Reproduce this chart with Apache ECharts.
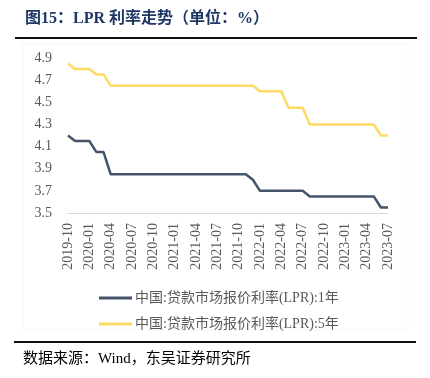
<!DOCTYPE html>
<html><head><meta charset="utf-8">
<script src="https://cdn.jsdelivr.net/npm/echarts@6/dist/echarts.min.js"></script>
<style>html,body{margin:0;padding:0;background:#fff}#c{width:430px;height:378px}</style>
</head><body><div id="c"></div>
<script>
const months = [];
(function(){let y=2019,m=10;for(let i=0;i<46;i++){months.push(y+'-'+String(m).padStart(2,'0'));m++;if(m>12){m=1;y++;}}})();
const lpr1y = [4.20,4.15,4.15,4.15,4.05,4.05,
3.85,3.85,3.85,3.85,3.85,3.85,3.85,3.85,3.85,3.85,3.85,3.85,3.85,3.85,3.85,3.85,3.85,3.85,3.85,3.85,
3.80,3.70,3.70,3.70,3.70,3.70,3.70,3.70,
3.65,3.65,3.65,3.65,3.65,3.65,3.65,3.65,3.65,3.65,3.55,3.55];
const lpr5y = [4.85,4.80,4.80,4.80,4.75,4.75,
4.65,4.65,4.65,4.65,4.65,4.65,4.65,4.65,4.65,4.65,4.65,4.65,4.65,4.65,4.65,4.65,4.65,4.65,4.65,4.65,4.65,
4.60,4.60,4.60,4.60,4.45,4.45,4.45,
4.30,4.30,4.30,4.30,4.30,4.30,4.30,4.30,4.30,4.30,4.20,4.20];
const seriesNames = ['中国:贷款市场报价利率(LPR):1年','中国:贷款市场报价利率(LPR):5年'];
const titleText = '图15：LPR 利率走势（单位：%）';
const sourceText = '数据来源：Wind，东吴证券研究所';
const ff = '"Liberation Serif","Noto Sans CJK SC",serif';
const chart = echarts.init(document.getElementById('c'));
chart.setOption({
  animation:false,
  backgroundColor:'#fff',
  grid:{left:68,right:42,top:58,bottom:165,containLabel:false},
  xAxis:{type:'category',data:months,boundaryGap:false,
    axisLine:{lineStyle:{color:'#d9d9d9',width:1}},axisTick:{show:false},
    axisLabel:{interval:2,rotate:90,margin:10,fontSize:14,color:'#595959',fontFamily:ff}},
  yAxis:{type:'value',min:3.5,max:4.9,interval:0.2,
    axisLine:{show:false},axisTick:{show:false},splitLine:{show:false},
    axisLabel:{margin:16,fontSize:14,color:'#595959',fontFamily:ff,formatter:v=>v.toFixed(1)}},
  legend:{orient:'vertical',left:94,top:286,itemWidth:33,itemHeight:3,itemGap:12,icon:'rect',
    textStyle:{fontSize:14,color:'#595959',fontFamily:ff,padding:[0,0,0,-2]},
    data:seriesNames},
  series:[
    {name:seriesNames[0],type:'line',data:lpr1y,showSymbol:false,lineStyle:{color:'#44546a',width:2.5},itemStyle:{color:'#44546a'}},
    {name:seriesNames[1],type:'line',data:lpr5y,showSymbol:false,lineStyle:{color:'#ffd966',width:2.5},itemStyle:{color:'#ffd966'}}
  ],
  graphic:[
    {type:'rect',shape:{x:23,y:44,width:385,height:286},style:{fill:'none',stroke:'#f7f7f7',lineWidth:1},silent:true},
    {type:'text',left:25,top:11,style:{text:titleText,font:'bold 16px '+ff,fill:'#203864'}},
    {type:'line',shape:{x1:15,y1:38,x2:417,y2:38},style:{stroke:'#111',lineWidth:2}},
    {type:'line',shape:{x1:14,y1:342,x2:416,y2:342},style:{stroke:'#111',lineWidth:2}},
    {type:'text',left:23,top:352,style:{text:sourceText,font:'15px '+ff,fill:'#000'}}
  ]
});
</script></body></html>
